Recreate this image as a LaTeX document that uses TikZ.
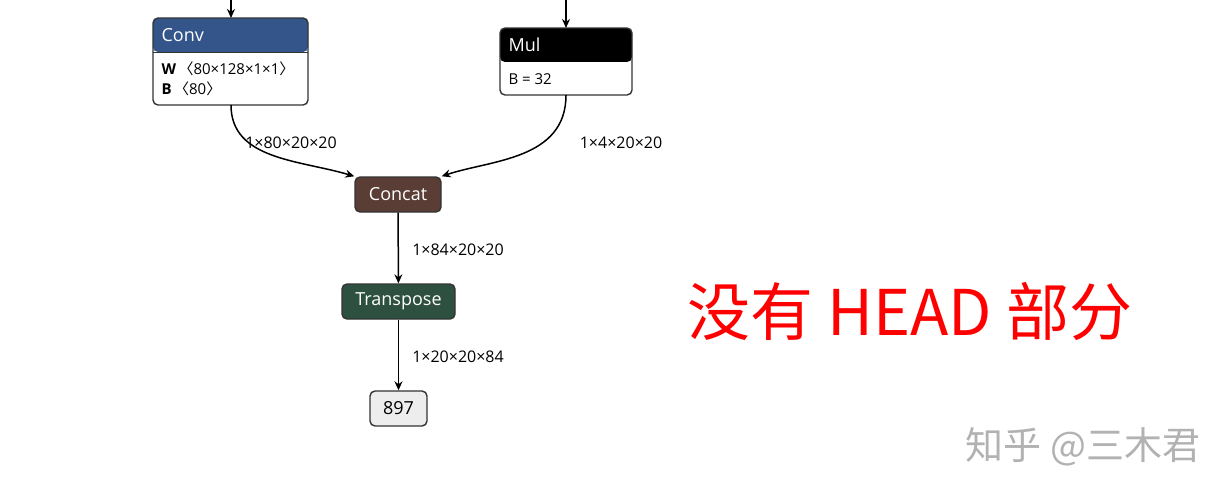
\documentclass[tikz,border=0pt]{standalone}
\usepackage{fontspec}
\setmainfont{Open Sans}
\newfontfamily\cjk{Noto Sans CJK SC}
\usetikzlibrary{arrows.meta}
\definecolor{convblue}{HTML}{33558A}
\definecolor{concatbrown}{HTML}{5A3E36}
\definecolor{transgreen}{HTML}{2E5040}
\tikzset{
 box/.style={draw=black!80,line width=1.4pt,rounded corners=5pt},
 lbl/.style={font=\fontsize{16}{18}\selectfont,anchor=center},
 conn/.style={-{Stealth[length=9pt,width=8pt]},line width=1.5pt},
 opnode/.style={box,text=white,font=\fontsize{18}{20}\selectfont,minimum height=35pt,inner sep=0pt}
}
\begin{document}
\begin{tikzpicture}[x=1pt,y=-1pt]
\useasboundingbox (0,0) rectangle (1230,496);
% Conv
\fill[convblue,rounded corners=5pt] (153,18) rectangle (308,52);
\fill[white,rounded corners=5pt] (153,52) rectangle (308,105);
\fill[white] (153,52) rectangle (308,70);
\draw[box] (153,18) rectangle (308,105);
\draw[line width=1pt,black!80] (153,52) -- (308,52);
\node[text=white,anchor=west,font=\fontsize{18}{20}\selectfont] (convt) at (158,35) {Conv};
\node[anchor=west,font=\fontsize{15}{17}\selectfont] (convw) at (158,69) {\textbf{W}\,{\cjk 〈}80×128×1×1{\cjk 〉}};
\node[anchor=west,font=\fontsize{15}{17}\selectfont] (convb) at (158,89) {\textbf{B}\,{\cjk 〈}80{\cjk 〉}};
\coordinate (convbot) at (231,105);
\coordinate (convtop) at (231,18);
\coordinate (cin) at (231,0);
% Mul
\fill[black,rounded corners=5pt] (500,28) rectangle (632,62);
\fill[white,rounded corners=5pt] (500,62) rectangle (632,95);
\fill[white] (500,62) rectangle (632,75);
\draw[box] (500,28) rectangle (632,95);
\node[text=white,anchor=west,font=\fontsize{18}{20}\selectfont] (mult) at (505,45) {Mul};
\node[anchor=west,font=\fontsize{15}{17}\selectfont] (mulb) at (505,79) {B = 32};
\coordinate (mulbot) at (566,95);
\coordinate (multop) at (566,28);
\coordinate (min) at (566,0);
% ops
\node[opnode,fill=concatbrown,minimum width=86pt] (concat) at (398,194.5) {Concat};
\node[opnode,fill=transgreen,minimum width=113pt] (trans) at (398.5,301.5) {Transpose};
\node[box,fill=black!7,minimum width=57pt,minimum height=35pt,inner sep=0pt,font=\fontsize{18}{20}\selectfont] (out) at (398.5,408.5) {897};
% connectors
\draw[conn] (cin) -- (convtop);
\draw[conn] (min) -- (multop);
\draw[conn] (convbot) .. controls (231,160) and (300,160) .. (concat.north west);
\draw[conn] (mulbot) .. controls (566,160) and (490,160) .. (concat.north east);
\draw[conn] (concat) -- (trans);
\draw[conn] (trans) -- (out);
\node[lbl] (l1) at (291,143) {1×80×20×20};
\node[lbl] (l2) at (621,143) {1×4×20×20};
\node[lbl] (l3) at (458,250) {1×84×20×20};
\node[lbl] (l4) at (458,357) {1×20×20×84};
% texts
\node[text=red,font=\cjk\fontsize{63}{70}\selectfont] (head) at (910,312) {没有 HEAD 部分};
\node[text=black!30,font=\cjk\fontsize{38}{42}\selectfont] (wm) at (1083,447) {知乎 @三木君};
\end{tikzpicture}
\end{document}
